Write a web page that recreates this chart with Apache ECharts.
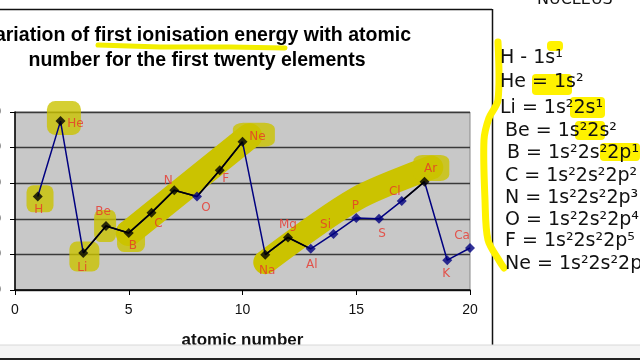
<!DOCTYPE html>
<html>
<head>
<meta charset="utf-8">
<script src="https://cdn.jsdelivr.net/npm/echarts@6/dist/echarts.min.js"></script>
<style>html,body{margin:0;padding:0;background:#fff;}#c{width:640px;height:360px;}</style>
</head>
<body>
<div id="c"></div>
<script>
// ---- data ----
var elements = ['H','He','Li','Be','B','C','N','O','F','Ne','Na','Mg','Al','Si','P','S','Cl','Ar','K','Ca'];
var atomicNumbers = [1,2,3,4,5,6,7,8,9,10,11,12,13,14,15,16,17,18,19,20];
var ionisationEnergy = [1312,2372,520,899,801,1086,1402,1314,1681,2081,496,738,578,787,1012,1000,1251,1521,419,590];
// markers re-traced in black by the annotator
var blackMarker = ['H','He','Li','Be','B','C','N','F','Ne','Na','Mg','Ar'];
// line segments re-traced in black (from atomic number a to b)
var blackSegments = [[3,10],[11,13],[17,18]];
var xTicks = [0,5,10,15,20];
var yTicks = [0,500,1000,1500,2000,2500];
// hand-drawn highlighter annotations (data coordinates)
var blobX = [1.1, 2.15, 3.05, 3.96, 5.1, 10.5, 18.3];
var blobY = [1280, 2415, 470, 900, 745, 2180, 1715];
var band1 = [[5.0,800],[10.3,2160]];
var band2 = [[11.0,390],[15.0,1280],[18.3,1720]];
var configLines = ['H - 1s\u00b9','He = 1s\u00b2','Li = 1s\u00b22s\u00b9','Be = 1s\u00b22s\u00b2','B = 1s\u00b22s\u00b22p\u00b9','C = 1s\u00b22s\u00b22p\u00b2','N = 1s\u00b22s\u00b22p\u00b3','O = 1s\u00b22s\u00b22p\u2074','F = 1s\u00b22s\u00b22p\u2075','Ne = 1s\u00b22s\u00b22p\u2076'];

// ---- styles ----
var blobSize = [[27,27],[34,34],[30,30],[22,32],[28,30],[42,24],[36,26]];
var labelOffset = {H:[1,13],He:[15,3],Li:[-1,15],Be:[-3,-14],B:[4,13],C:[7,11],N:[-6,-9],O:[9,11],F:[6,9],Ne:[15,-5],
  Na:[2,16],Mg:[0,-13],Al:[1,16],Si:[-8,-9],P:[-1,-12],S:[3,15],Cl:[-7,-9],Ar:[6,-13],K:[-1,14],Ca:[-8,-12]};
var NAVY = '#000080', HL = '#cbc300', RED = '#e8352a';

var chart = echarts.init(document.getElementById('c'));

var mainData = atomicNumbers.map(function(x,i){return [x, ionisationEnergy[i]];});
var blackSeries = blackSegments.map(function(s){
  return {type:'line', symbol:'none', z:4, silent:true,
    lineStyle:{color:'#000', width:1.6},
    data: atomicNumbers.map(function(x,i){return (x>=s[0]&&x<=s[1]) ? [x, ionisationEnergy[i]] : null;}).filter(function(d){return d;})};
});
var markerData = atomicNumbers.map(function(x,i){
  var el = elements[i];
  return {name: el, value:[x, ionisationEnergy[i]],
    itemStyle:{color: blackMarker.indexOf(el)>=0 ? '#000' : NAVY},
    label:{offset: labelOffset[el]}};
});
var blobData = blobX.map(function(x,i){return {value:[x, blobY[i]], symbolSize: blobSize[i]};});

var gfx = [];
// frame
gfx.push({type:'rect', shape:{x:0,y:345,width:640,height:13}, style:{fill:'#f4f4f4'}, z:20});
gfx.push({type:'line', shape:{x1:0,y1:345,x2:640,y2:345}, style:{stroke:'#d8d8d8', lineWidth:1}, z:21});
gfx.push({type:'line', shape:{x1:0,y1:359,x2:640,y2:359}, style:{stroke:'#222', lineWidth:2}, z:21});
gfx.push({type:'line', shape:{x1:0,y1:9.5,x2:492,y2:9.5}, style:{stroke:'#111', lineWidth:1.5}, z:2});
gfx.push({type:'line', shape:{x1:492.5,y1:9,x2:492.5,y2:345}, style:{stroke:'#111', lineWidth:1.5}, z:2});
// title highlight
gfx.push({type:'polyline', shape:{points:[[98,45],[160,47],[230,47],[285,48]]}, style:{stroke:'#f2ee00', lineWidth:5, lineCap:'round'}, z:3});
gfx.push({type:'text', style:{text:'Variation of first ionisation energy with atomic\nnumber for the first twenty elements',
  x:197, y:23, textAlign:'center', textVerticalAlign:'top', font:'bold 19.5px "Liberation Sans", Arial, sans-serif', lineHeight:25, fill:'#000'}, z:10});
// right-side notes highlights
var hlRects = [[547,41,16,10],[532,74,40,21],[570,97,35,21],[575,121,30,19],[600,143,40,18]];
hlRects.forEach(function(r){
  gfx.push({type:'rect', shape:{x:r[0],y:r[1],width:r[2],height:r[3],r:4}, style:{fill:'#fff200'}, z:3});
});
gfx.push({type:'polyline', shape:{points:[[498,42],[498,100],[489,118],[484,140],[485,200],[488,240],[500,262],[504,268]], smooth:0.3},
  style:{stroke:'#fff200', lineWidth:7, lineCap:'round', lineJoin:'round'}, z:3});
gfx.push({type:'text', style:{text:'NUCLEUS', x:537, y:-8, textVerticalAlign:'top', font:'16px "DejaVu Sans", sans-serif', fill:'#111'}, z:10});
var noteY = [58,82,108,131,153,176,198,220,241,264];
var noteX = [500,500,500,505,507,505,505,505,505,505];
configLines.forEach(function(t,i){
  gfx.push({type:'text', style:{text:t, x:noteX[i], y:noteY[i], textVerticalAlign:'middle', font:'19px "DejaVu Sans", sans-serif', fill:'#111'}, z:10});
});

chart.setOption({
  animation:false,
  backgroundColor:'#fff',
  grid:{left:15, top:112, width:455, height:178, containLabel:false, outerBoundsMode:'none',
    show:true, backgroundColor:'#c8c8c8', borderColor:'#8a8a8a', borderWidth:1},
  xAxis:{type:'value', min:0, max:20, interval:5,
    axisLine:{show:true, onZero:false, lineStyle:{color:'#000', width:1.5}},
    axisTick:{show:true, length:5, lineStyle:{color:'#000'}},
    splitLine:{show:false},
    axisLabel:{color:'#111', fontSize:14, margin:13, fontFamily:'"Liberation Sans", Arial, sans-serif'},
    name:'atomic number', nameLocation:'middle', nameGap:42,
    nameTextStyle:{color:'#111', fontSize:17, fontWeight:'bold', fontFamily:'"Liberation Sans", Arial, sans-serif'}},
  yAxis:{type:'value', min:0, max:2500, interval:500,
    axisLine:{show:true, lineStyle:{color:'#000', width:1.5}},
    axisTick:{show:true, length:5, lineStyle:{color:'#000'}},
    splitLine:{show:true, lineStyle:{color:'#3a3a3a', width:1.4}},
    axisLabel:{color:'#111', fontSize:14, margin:14, fontFamily:'"Liberation Sans", Arial, sans-serif'}},
  series:[
    {type:'line', symbol:'none', z:1, silent:true, smooth:false, lineStyle:{color:HL, width:26, cap:'round', join:'round'}, data:band1},
    {type:'line', symbol:'none', z:1, silent:true, smooth:0.3, lineStyle:{color:HL, width:24, cap:'round', join:'round'}, data:band2},
    {type:'scatter', symbol:'roundRect', z:1, silent:true, itemStyle:{color:HL}, data:blobData},
    {type:'line', symbol:'none', z:3, silent:true, lineStyle:{color:NAVY, width:1.5}, data:mainData}
  ].concat(blackSeries).concat([
    {type:'scatter', symbol:'diamond', symbolSize:10, z:6, data:markerData,
      label:{show:true, position:'inside', formatter:'{b}', color:RED, fontSize:12, fontFamily:'"DejaVu Sans", sans-serif'}}
  ]),
  graphic: gfx
});
</script>
</body>
</html>
